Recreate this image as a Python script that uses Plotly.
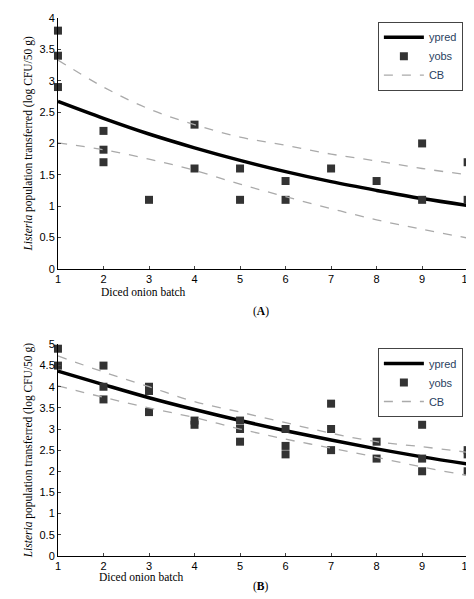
import plotly.graph_objects as go

batch = list(range(1, 11))
a_pred = [2.67, 2.40, 2.15, 1.93, 1.73, 1.55, 1.39, 1.25, 1.12, 1.01]
a_up = [3.33, 2.90, 2.55, 2.30, 2.10, 1.97, 1.83, 1.72, 1.60, 1.50]
a_lo = [2.01, 1.90, 1.75, 1.57, 1.35, 1.15, 0.96, 0.78, 0.63, 0.49]
a_obs_x = [1, 1, 1, 2, 2, 2, 3, 4, 4, 5, 5, 6, 6, 7, 8, 9, 9, 10, 10]
a_obs_y = [3.8, 3.4, 2.9, 2.2, 1.9, 1.7, 1.1, 2.3, 1.6, 1.6, 1.1, 1.4, 1.1, 1.6, 1.4, 2.0, 1.1, 1.7, 1.1]

b_pred = [4.37, 4.05, 3.74, 3.46, 3.20, 2.96, 2.74, 2.53, 2.34, 2.17]
b_up = [4.73, 4.35, 4.00, 3.65, 3.40, 3.15, 2.90, 2.70, 2.58, 2.45]
b_lo = [4.02, 3.75, 3.50, 3.27, 3.00, 2.76, 2.55, 2.33, 2.10, 1.90]
b_obs_x = [1, 1, 2, 2, 2, 3, 3, 3, 4, 4, 5, 5, 5, 6, 6, 6, 7, 7, 7, 8, 8, 9, 9, 9, 10, 10, 10]
b_obs_y = [4.9, 4.5, 4.5, 4.0, 3.7, 4.0, 3.9, 3.4, 3.2, 3.1, 3.2, 3.0, 2.7, 3.0, 2.6, 2.4, 3.6, 3.0, 2.5, 2.7, 2.3, 3.1, 2.3, 2.0, 2.5, 2.4, 2.0]

fig = go.Figure()
for (pred, up, lo, ox, oy, xa, ya, leg) in [
    (a_pred, a_up, a_lo, a_obs_x, a_obs_y, "x", "y", "legend"),
    (b_pred, b_up, b_lo, b_obs_x, b_obs_y, "x2", "y2", "legend2")]:
    fig.add_trace(go.Scatter(x=batch, y=pred, mode="lines", name="ypred", line=dict(color="black", width=3.5, shape="spline"), xaxis=xa, yaxis=ya, legend=leg))
    fig.add_trace(go.Scatter(x=ox, y=oy, mode="markers", name="yobs", cliponaxis=False, marker=dict(symbol="square", size=8, color="#333333"), xaxis=xa, yaxis=ya, legend=leg))
    fig.add_trace(go.Scatter(x=batch, y=up, mode="lines", name="CB", line=dict(color="#aaaaaa", width=1.3, dash="dash", shape="spline"), xaxis=xa, yaxis=ya, legend=leg))
    fig.add_trace(go.Scatter(x=batch, y=lo, mode="lines", name="CB", showlegend=False, line=dict(color="#aaaaaa", width=1.3, dash="dash", shape="spline"), xaxis=xa, yaxis=ya, legend=leg))

ax = dict(showline=True, linecolor="black", linewidth=1, ticks="inside", ticklen=3, showgrid=False, zeroline=False, tickfont=dict(family="Arial, Liberation Sans", size=11, color="black"))
ytitle = "<i>Listeria</i> population transferred (log CFU/50 g)"
tfont = dict(family="Liberation Serif, Times New Roman", size=11.5, color="black")
fig.update_layout(
    width=474, height=599, margin=dict(l=0, r=0, t=0, b=0),
    plot_bgcolor="white", paper_bgcolor="white",
    xaxis=dict(ax, domain=[0.101, 0.982], range=[1, 10], dtick=1, anchor="y"),
    yaxis=dict(ax, domain=[0.566, 0.993], range=[0, 4], dtick=0.5, anchor="x",
               title=dict(text=ytitle, font=tfont, standoff=4)),
    xaxis2=dict(ax, domain=[0.101, 0.982], range=[1, 10], dtick=1, anchor="y2"),
    yaxis2=dict(ax, domain=[0.077, 0.437], range=[0, 5], dtick=0.5, anchor="x2",
                title=dict(text=ytitle, font=tfont, standoff=4)),
    legend=dict(x=0.789, y=0.987, xanchor="left", yanchor="top", bordercolor="#444", borderwidth=1,
                font=dict(family="Arial, Liberation Sans", size=11), tracegroupgap=0, itemwidth=40),
    legend2=dict(x=0.789, y=0.431, xanchor="left", yanchor="top", bordercolor="#444", borderwidth=1,
                 font=dict(family="Arial, Liberation Sans", size=11), tracegroupgap=0, itemwidth=40),
    annotations=[
        dict(text="Diced onion batch", x=90/474, y=1-276/599, xref="paper", yref="paper", xanchor="left", yanchor="top", showarrow=False, font=tfont),
        dict(text="(<b>A</b>)", x=255/474, y=1-304/599, xref="paper", yref="paper", showarrow=False, font=tfont),
        dict(text="Diced onion batch", x=88/474, y=1-566/599, xref="paper", yref="paper", xanchor="left", yanchor="top", showarrow=False, font=tfont),
        dict(text="(<b>B</b>)", x=255/474, y=1-593/599, xref="paper", yref="paper", showarrow=False, font=tfont),
    ],
)
fig.write_html("out.html")
